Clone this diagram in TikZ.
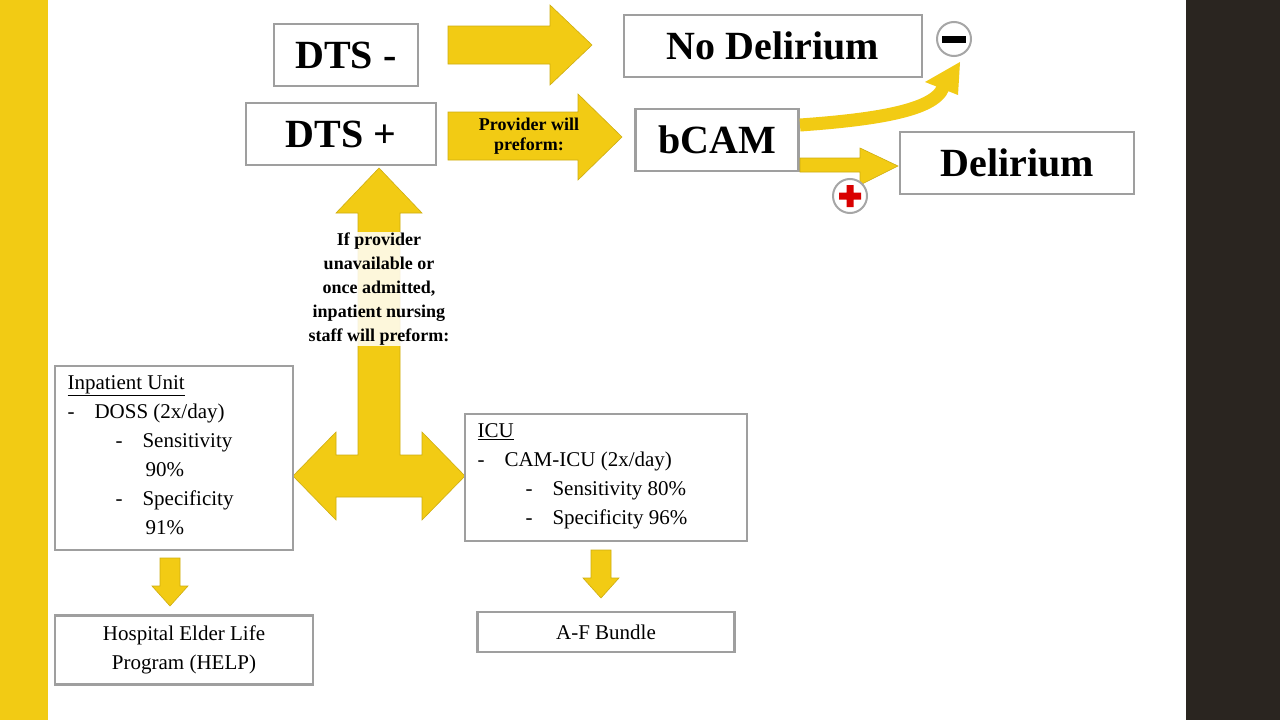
\documentclass[tikz,border=0pt]{standalone}
\usepackage{fontspec}
\setmainfont{Liberation Serif}
\begin{document}
\begin{tikzpicture}[x=1pt,y=-1pt,
  bx/.style={draw=gray!75,line width=2.5pt,fill=white,inner sep=0pt},
  big/.style={font=\bfseries\fontsize{40}{44}\selectfont},
  yl/.style={fill=yel,draw=yel!85!black,line width=0.6pt},
  txt/.style={font=\fontsize{21}{29}\selectfont,align=left,anchor=north west}]
\definecolor{yel}{HTML}{F2CB14}
\definecolor{dark}{HTML}{2A2520}
\useasboundingbox (0,0) rectangle (1280,720);
\fill[white] (0,0) rectangle (1280,720);
\fill[yel] (0,0) rectangle (48,720);
\fill[dark] (1186,0) rectangle (1280,720);
% boxes
\node[bx,minimum width=144,minimum height=62,big] (dm) at (346,55) {DTS -};
\node[bx,minimum width=190,minimum height=62,big] (dp) at (341,134) {DTS +};
\node[bx,minimum width=298,minimum height=62,big] (nd) at (773,46) {No Delirium};
\node[bx,minimum width=163,minimum height=62,big] (bc) at (717,140) {bCAM};
\node[bx,minimum width=234,minimum height=62,big] (de) at (1017,163) {Delirium};
% arrows top
\draw[yl] (448,26) -- (550,26) -- (550,5) -- (592,45) -- (550,85) -- (550,64) -- (448,64) -- cycle;
\draw[yl] (448,112) -- (578,112) -- (578,94) -- (622,137) -- (578,180) -- (578,160) -- (448,160) -- cycle;
\node[font=\bfseries\fontsize{18}{20}\selectfont,align=center] (pw) at (529,136) {Provider will\\preform:};
\draw[yl] (800,158) -- (860,158) -- (860,148) -- (898,166) -- (860,185) -- (860,172) -- (800,172) -- cycle;
\draw[yel,line width=13pt] (800,125) .. controls (900,118) and (948,105) .. (944,78);
\fill[yel] (925,82) -- (960,62) -- (958,95) -- cycle;
\node[circle,draw=gray!70,line width=2pt,fill=white,minimum size=34,inner sep=0] (mi) at (954,39) {};
\fill[black] (942,35.5) rectangle (966,42.5);
\node[circle,draw=gray!70,line width=2pt,fill=white,minimum size=34,inner sep=0] (pl) at (850,196) {};
\fill[red!85!black] (846.5,185) rectangle (853.5,207) (839,192.5) rectangle (861,199.5);
% cross arrow
\draw[yl] (379,168) -- (422,213) -- (400,213) -- (400,455) -- (422,455) -- (422,432) -- (465,476)
  -- (422,520) -- (422,497) -- (336,497) -- (336,520) -- (293,476) -- (336,432) -- (336,455)
  -- (358,455) -- (358,213) -- (336,213) -- cycle;
\node[font=\bfseries\fontsize{18}{24}\selectfont,align=center,fill=white,inner sep=1pt,fill opacity=0.85,text opacity=1] (ip) at (379,289)
 {If provider\\unavailable or\\once admitted,\\inpatient nursing\\staff will preform:};
% lower boxes
\draw[bx] (55,366) rectangle (293,550);
\node[txt] (iu) at (64,372) {\underline{Inpatient Unit}\\
-\hspace{20pt}DOSS (2x/day)\\
\hspace{48pt}-\hspace{20pt}Sensitivity\\
\hspace{78pt}90\%\\
\hspace{48pt}-\hspace{20pt}Specificity\\
\hspace{78pt}91\%};
\draw[bx] (465,414) rectangle (747,541);
\node[txt] (icu) at (474,420) {\underline{ICU}\\
-\hspace{20pt}CAM-ICU (2x/day)\\
\hspace{48pt}-\hspace{20pt}Sensitivity 80\%\\
\hspace{48pt}-\hspace{20pt}Specificity 96\%};
\draw[yl] (160,558) -- (180,558) -- (180,586) -- (188,586) -- (170,606) -- (152,586) -- (160,586) -- cycle;
\draw[yl] (591,550) -- (611,550) -- (611,578) -- (619,578) -- (601,598) -- (583,578) -- (591,578) -- cycle;
\node[bx,minimum width=258,minimum height=69,font=\fontsize{21}{29}\selectfont,align=center] (help) at (184,650) {Hospital Elder Life\\Program (HELP)};
\node[bx,minimum width=257,minimum height=40,font=\fontsize{21}{25}\selectfont] (af) at (606,632) {A-F Bundle};
\end{tikzpicture}
\end{document}
